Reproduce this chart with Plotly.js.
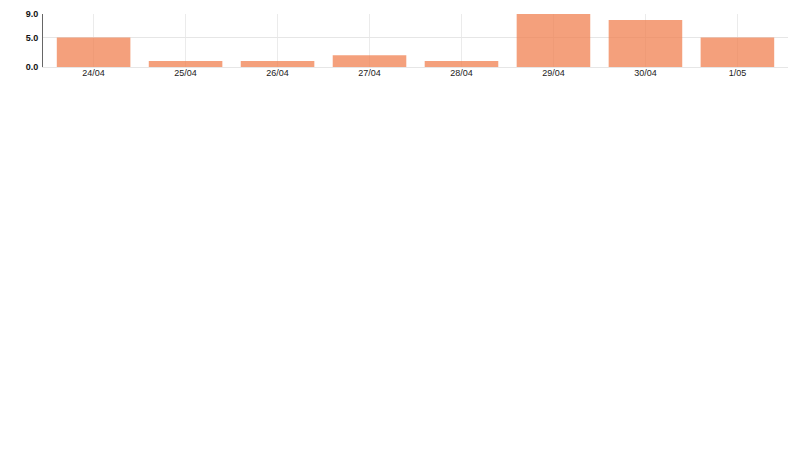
<!DOCTYPE html>
<html>
<head>
<meta charset="utf-8">
<script src="https://cdn.plot.ly/plotly-3.0.1.min.js"></script>
<style>html,body{margin:0;padding:0;background:#fff;}#chart{width:800px;height:450px;}</style>
</head>
<body>
<div id="chart"></div>
<script>
var dates = ["24/04", "25/04", "26/04", "27/04", "28/04", "29/04", "30/04", "1/05"];
var counts = [5, 1, 1, 2, 1, 9, 8, 5];
var yTicks = [0, 5, 9];
var yTickText = ["0.0", "5.0", "9.0"];

Plotly.newPlot("chart", [{
  type: "bar",
  x: dates,
  y: counts,
  marker: {color: "rgba(240,128,80,0.75)"},
  hoverinfo: "none"
}], {
  width: 800, height: 450,
  margin: {l: 43, r: 12, t: 14, b: 383, pad: 0},
  paper_bgcolor: "#fff", plot_bgcolor: "#fff",
  bargap: 0.2,
  showlegend: false,
  font: {family: "Liberation Sans, Arial, sans-serif", size: 9, color: "#222"},
  xaxis: {
    type: "category",
    range: [-0.55, 7.55],
    showgrid: true, gridcolor: "#ebebeb", gridwidth: 1,
    showline: true, linecolor: "#e6e6e6", linewidth: 1,
    ticks: "", ticklabelstandoff: -3, tickfont: {size: 9, color: "#222"},
    fixedrange: true
  },
  yaxis: {
    range: [0, 9],
    tickvals: yTicks, ticktext: yTickText,
    showgrid: true, gridcolor: "#e6e6e6", gridwidth: 1,
    zeroline: false,
    showline: true, linecolor: "#666", linewidth: 1,
    ticks: "", ticklabelstandoff: 2,
    tickfont: {size: 9, color: "#111", weight: "bold"},
    fixedrange: true
  }
}, {displayModeBar: false, staticPlot: true});
</script>
</body>
</html>
